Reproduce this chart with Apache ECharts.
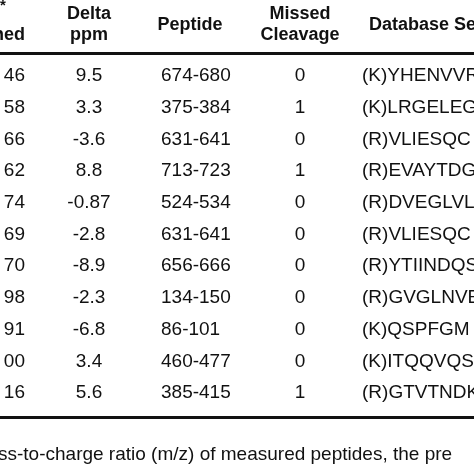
<!DOCTYPE html>
<html><head><meta charset="utf-8">
<script src="https://cdn.jsdelivr.net/npm/echarts@6/dist/echarts.min.js"></script>
<style>html,body{margin:0;padding:0;background:#fff}#c{width:474px;height:474px}</style>
</head><body><div id="c"></div>
<script>
const measured = ["46","58","66","62","74","69","70","98","91","00","16"];
const deltaPpm = ["9.5","3.3","-3.6","8.8","-0.87","-2.8","-8.9","-2.3","-6.8","3.4","5.6"];
const peptide = ["674-680","375-384","631-641","713-723","524-534","631-641","656-666","134-150","86-101","460-477","385-415"];
const missed = ["0","1","0","1","0","0","0","0","0","0","1"];
const sequence = ["(K)YHENVVR","(K)LRGELEG","(R)VLIESQC","(R)EVAYTDG","(R)DVEGLVL","(R)VLIESQC","(R)YTIINDQS","(R)GVGLNVE","(K)QSPFGM","(K)ITQQVQS","(R)GTVTNDK"];
const footnote = "ss-to-charge ratio (m/z) of measured peptides, the pre";

const F = 'Liberation Sans, Arial, sans-serif';
const g = [];
function t(x,y,s,align,bold,size){g.push({type:'text',x:x,y:y,style:{text:s,fill:'#111',font:(bold?'bold ':'')+(size||19)+'px '+F,textAlign:align,textVerticalAlign:'middle'}});}
// header
t(0,6,'*','left',true,15);
t(25,35,'hed','right',true,18);
t(89,14,'Delta','center',true,18); t(89,35,'ppm','center',true,18);
t(190,25,'Peptide','center',true,18);
t(300,14,'Missed','center',true,18); t(300,35,'Cleavage','center',true,18);
t(369,25,'Database Sequence','left',true,18);
g.push({type:'rect',shape:{x:0,y:52,width:474,height:3},style:{fill:'#111'}});
measured.forEach((m,i)=>{
  const y = 76 + i*31.7;
  t(25,y,m,'right');
  t(89,y,deltaPpm[i],'center');
  t(161,y,peptide[i],'left');
  t(300,y,missed[i],'center');
  t(362,y,sequence[i],'left');
});
g.push({type:'rect',shape:{x:0,y:416,width:474,height:3},style:{fill:'#111'}});
t(-2,455,footnote,'left');
const chart = echarts.init(document.getElementById('c'));
chart.setOption({animation:false,backgroundColor:'#fff',graphic:g});
</script></body></html>
